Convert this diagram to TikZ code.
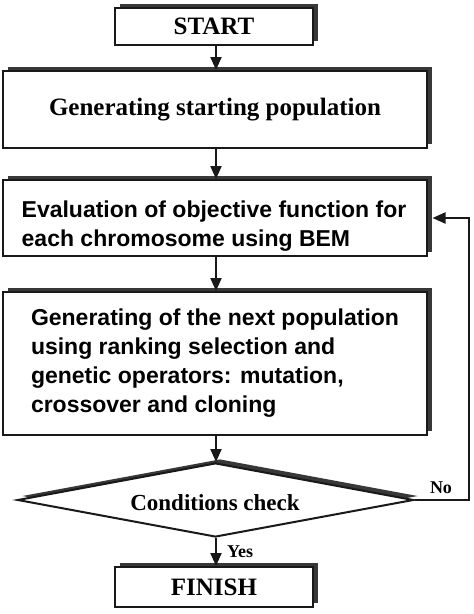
\documentclass[tikz,border=0pt]{standalone}
\usepackage{fontspec}
\setmainfont{Liberation Serif}
\setsansfont{Liberation Sans}
\usetikzlibrary{arrows.meta,shapes.geometric,shadows}
\tikzset{
  shad/.style={general shadow={fill=black!78, shadow xshift=4.5pt, shadow yshift=4pt}},
  boxst/.style={draw=black!90, line width=2pt, fill=white, shad, rectangle, inner sep=0pt},
  serifb/.style={font=\fontsize{25}{30}\selectfont\bfseries\rmfamily},
  sansb/.style={font=\fontsize{23}{29}\selectfont\bfseries\sffamily, align=left},
  arr/.style={line width=2pt, draw=black!90, -{Triangle[length=13pt,width=11pt]}},
  lbl/.style={font=\fontsize{18}{20}\selectfont\bfseries\rmfamily},
}
\begin{document}
\begin{tikzpicture}[x=1pt,y=-1pt]
\useasboundingbox (0,0) rectangle (474,614);
\node[boxst, serifb, minimum width=198pt, minimum height=37pt] (start) at (214,26.5) {START};
\node[boxst, serifb, minimum width=424pt, minimum height=77pt] (gen) at (215,109.5) {Generating starting population};
\node[boxst, minimum width=424pt, minimum height=76pt] (eval) at (215,218) {};
\node[sansb] (evaltxt) at (214,226) {Evaluation of objective function for\\each chromosome using BEM};
\node[boxst, sansb, minimum width=424pt, minimum height=143pt] (next) at (215,363.5) {Generating of the next population\\using ranking selection and\\genetic operators: mutation,\\crossover and cloning};
\node[diamond, aspect=5.35, draw=black!90, line width=2pt, fill=white, shad, inner sep=0pt, minimum width=396pt, minimum height=74pt, serifb, font=\fontsize{23}{28}\selectfont\bfseries\rmfamily] (cond) at (215.5,500) {};
\node[serifb, font=\fontsize{23}{28}\selectfont\bfseries\rmfamily] (condtxt) at (215,503) {Conditions check};
\node[boxst, serifb, minimum width=198pt, minimum height=40pt] (finish) at (214,587) {FINISH};
\coordinate (loopc) at (469,500);
\coordinate (evalin) at ([xshift=4.5pt]eval.east);
\draw[arr] (start.south -| 216,0) -- (gen.north -| 216,0);
\draw[arr] (gen.south -| 216,0) -- (eval.north -| 216,0);
\draw[arr] (eval.south -| 216,0) -- (next.north -| 216,0);
\draw[arr] (next.south -| 216,0) -- (cond.north -| 216,0);
\draw[arr] (cond.south -| 216,0) -- (finish.north -| 216,0);
\draw[arr] (cond.east) -- (loopc) |- (evalin);
\node[lbl] (no) at (441,488) {No};
\node[lbl] (yes) at (240,552) {Yes};
\end{tikzpicture}
\end{document}
